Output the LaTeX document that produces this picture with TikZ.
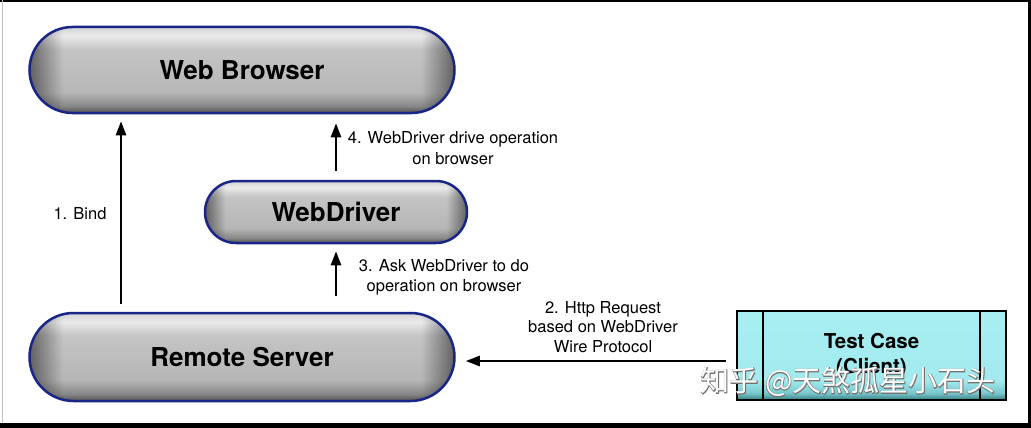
\documentclass[tikz,border=0pt]{standalone}
\usepackage{fontspec}
\setmainfont{TeX Gyre Heros}
\newfontfamily\cjk{Noto Sans CJK SC}
\newfontfamily\cjkhalo[FakeBold=4]{Noto Sans CJK SC}
\usetikzlibrary{arrows.meta,shapes.misc,fadings}
\definecolor{navy}{RGB}{25,38,135}
\definecolor{pa}{RGB}{80,80,80}
\definecolor{pb}{RGB}{135,135,135}
\definecolor{pc}{RGB}{182,182,182}
\definecolor{pd}{RGB}{196,196,196}
\definecolor{pe}{RGB}{235,235,235}
\definecolor{pf}{RGB}{210,210,210}
\definecolor{ca}{RGB}{55,125,130}
\definecolor{cb}{RGB}{120,200,205}
\definecolor{cc}{RGB}{162,234,238}
\definecolor{cd}{RGB}{168,239,242}
\pgfdeclareverticalshading{pillshade}{100bp}{color(0bp)=(pa); color(25bp)=(pa); color(29bp)=(pb); color(37bp)=(pc); color(62bp)=(pd); color(70bp)=(pe); color(75bp)=(pf); color(100bp)=(pf)}
\pgfdeclareverticalshading{cyanshade}{100bp}{color(0bp)=(ca); color(25bp)=(ca); color(29bp)=(cb); color(36bp)=(cc); color(75bp)=(cd); color(100bp)=(cd)}
\pgfdeclarehorizontalshading{endsh}{100bp}{color(0bp)=(white!50!black); color(25bp)=(white!50!black); color(29bp)=(black); color(71bp)=(black); color(75bp)=(white!50!black); color(100bp)=(white!50!black)}
\pgfdeclarefading{endsfade}{\pgfuseshading{endsh}}
\tikzset{
  pill/.style={shape=rounded rectangle, draw=navy, line width=2.5pt, shading=pillshade, inner sep=0pt,
    font=\fontsize{26}{30}\selectfont\bfseries,
    path picture={\fill[black, path fading=endsfade, fit fading=true]
      (path picture bounding box.south west) rectangle (path picture bounding box.north east);}},
  tcbox/.style={draw=black, line width=2pt, shading=cyanshade, inner sep=0pt, align=center,
    font=\fontsize{20.5}{25}\selectfont\bfseries},
  arr/.style={line width=2.5pt, -{Triangle[width=10pt,length=14pt]}},
  lbl/.style={font=\fontsize{16.5}{20.5}\selectfont, align=center, inner sep=0pt},
  wm/.style={font=\cjk\fontsize{29}{29}\selectfont, inner sep=0pt}
}
\begin{document}
\begin{tikzpicture}[x=1pt,y=-1pt]
\useasboundingbox (0,0) rectangle (1031,428);
\fill[white] (0,0) rectangle (1031,428);
% frame
\fill[black] (0,0) rectangle (1031,2);
\fill[black] (1028,0) rectangle (1031,428);
\fill[black] (0,423) rectangle (1031,428);
\draw[gray!50, line width=0.8pt] (2,0) -- (2,423);
% nodes
\node[pill, minimum width=425pt, minimum height=86pt] (wb) at (242,70) {Web Browser};
\node[pill, minimum width=262pt, minimum height=62pt] (wd) at (336,212) {WebDriver};
\node[pill, minimum width=425pt, minimum height=88pt] (rs) at (242,357) {Remote Server};
\node[tcbox, minimum width=269pt, minimum height=89pt] (tc) at (871.5,355.5) {Test Case\\(Client)};
\draw[black, line width=2pt] ([xshift=27pt]tc.north west) -- ([xshift=27pt]tc.south west);
\draw[black, line width=2pt] ([xshift=-27pt]tc.north east) -- ([xshift=-27pt]tc.south east);
% connectors
\draw[arr] ([xshift=-121pt,yshift=8pt]rs.north) -- ([xshift=-121pt,yshift=-7pt]wb.south);
\coordinate (t4) at (wd.north |- wb.south);
\draw[arr] ([yshift=9pt]wd.north) -- ([yshift=-9pt]t4);
\coordinate (s3) at (wd.south |- rs.north);
\draw[arr] ([yshift=16pt]s3) -- ([yshift=-7pt]wd.south);
\coordinate (s2) at ([xshift=-10pt,yshift=-5.5pt]tc.west);
\coordinate (e2) at (rs.east |- s2);
\draw[arr] (s2) -- ([xshift=10pt]e2);
% labels
\node[lbl] (l1) at (80,214) {1. Bind};
\node[lbl] (l4) at (453,148) {4. WebDriver drive operation\\on browser};
\node[lbl] (l3) at (444,277.5) {3. Ask WebDriver to do\\operation on browser};
\node[lbl, font=\fontsize{16.5}{19.5}\selectfont] (l2) at (603,327) {2. Http Request\\based on WebDriver\\Wire Protocol};
% watermark
\node[wm, font=\cjkhalo\fontsize{29}{29}\selectfont, text=black!55] (wmh) at (848,382) {知乎 @天煞孤星小石头};
\node[wm, text=white] (wmk) at (848,382) {知乎 @天煞孤星小石头};
\end{tikzpicture}
\end{document}
